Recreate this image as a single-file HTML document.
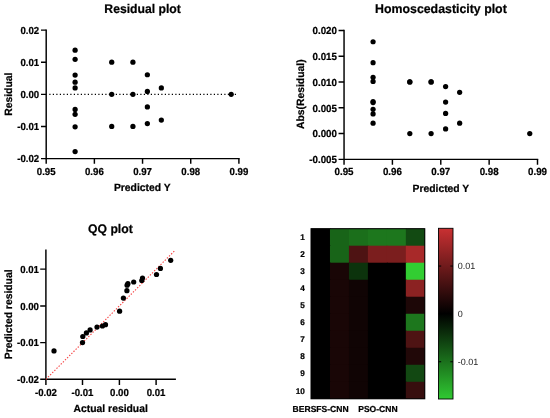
<!DOCTYPE html>
<html><head><meta charset="utf-8"><title>Residual plots</title>
<style>html,body{margin:0;padding:0;background:#fff}svg{display:block;font-family:"Liberation Sans", Arial, sans-serif;text-rendering:geometricPrecision;filter:blur(0.35px)}</style>
</head><body>
<svg width="550" height="418" viewBox="0 0 550 418">
<rect width="550" height="418" fill="#fff"/>
<path d="M46.20 29.38V158.60H239.62" fill="none" stroke="#000" stroke-width="1.45" stroke-linejoin="miter"/>
<path d="M46.20 158.60v5.2M94.38 158.60v5.2M142.55 158.60v5.2M190.73 158.60v5.2M238.90 158.60v5.2M46.20 30.10h-5.2M46.20 62.22h-5.2M46.20 94.35h-5.2M46.20 126.47h-5.2M46.20 158.60h-5.2" fill="none" stroke="#000" stroke-width="1.45"/>
<text transform="translate(46.20 174.80) scale(1 1.05)" font-size="9.65" font-weight="bold" text-anchor="middle" fill="#000" stroke="#000" stroke-width="0.22">0.95</text>
<text transform="translate(94.38 174.80) scale(1 1.05)" font-size="9.65" font-weight="bold" text-anchor="middle" fill="#000" stroke="#000" stroke-width="0.22">0.96</text>
<text transform="translate(142.55 174.80) scale(1 1.05)" font-size="9.65" font-weight="bold" text-anchor="middle" fill="#000" stroke="#000" stroke-width="0.22">0.97</text>
<text transform="translate(190.73 174.80) scale(1 1.05)" font-size="9.65" font-weight="bold" text-anchor="middle" fill="#000" stroke="#000" stroke-width="0.22">0.98</text>
<text transform="translate(238.90 174.80) scale(1 1.05)" font-size="9.65" font-weight="bold" text-anchor="middle" fill="#000" stroke="#000" stroke-width="0.22">0.99</text>
<text transform="translate(39.20 33.90) scale(1 1.05)" font-size="9.65" font-weight="bold" text-anchor="end" fill="#000" stroke="#000" stroke-width="0.22">0.02</text>
<text transform="translate(39.20 66.02) scale(1 1.05)" font-size="9.65" font-weight="bold" text-anchor="end" fill="#000" stroke="#000" stroke-width="0.22">0.01</text>
<text transform="translate(39.20 98.15) scale(1 1.05)" font-size="9.65" font-weight="bold" text-anchor="end" fill="#000" stroke="#000" stroke-width="0.22">0.00</text>
<text transform="translate(39.20 130.28) scale(1 1.05)" font-size="9.65" font-weight="bold" text-anchor="end" fill="#000" stroke="#000" stroke-width="0.22">-0.01</text>
<text transform="translate(39.20 162.40) scale(1 1.05)" font-size="9.65" font-weight="bold" text-anchor="end" fill="#000" stroke="#000" stroke-width="0.22">-0.02</text>
<path d="M49.3 94.35H236.3" stroke="#000" stroke-width="1.15" stroke-dasharray="1.2 2.3" fill="none"/>
<circle cx="75.11" cy="50.18" r="2.62" fill="#000"/>
<circle cx="75.11" cy="59.33" r="2.62" fill="#000"/>
<circle cx="75.11" cy="75.07" r="2.62" fill="#000"/>
<circle cx="75.11" cy="82.14" r="2.62" fill="#000"/>
<circle cx="75.11" cy="87.92" r="2.62" fill="#000"/>
<circle cx="75.11" cy="109.45" r="2.62" fill="#000"/>
<circle cx="75.11" cy="114.27" r="2.62" fill="#000"/>
<circle cx="75.11" cy="126.80" r="2.62" fill="#000"/>
<circle cx="75.11" cy="151.53" r="2.62" fill="#000"/>
<circle cx="111.72" cy="62.22" r="2.62" fill="#000"/>
<circle cx="111.72" cy="94.35" r="2.62" fill="#000"/>
<circle cx="111.72" cy="126.47" r="2.62" fill="#000"/>
<circle cx="132.92" cy="62.22" r="2.62" fill="#000"/>
<circle cx="132.92" cy="94.35" r="2.62" fill="#000"/>
<circle cx="132.92" cy="126.47" r="2.62" fill="#000"/>
<circle cx="147.37" cy="74.75" r="2.62" fill="#000"/>
<circle cx="147.37" cy="91.46" r="2.62" fill="#000"/>
<circle cx="147.37" cy="106.88" r="2.62" fill="#000"/>
<circle cx="147.37" cy="123.58" r="2.62" fill="#000"/>
<circle cx="161.34" cy="87.92" r="2.62" fill="#000"/>
<circle cx="161.34" cy="120.05" r="2.62" fill="#000"/>
<circle cx="231.19" cy="94.35" r="2.62" fill="#000"/>
<text transform="translate(142.60 13.10) scale(1 1.02)" font-size="12.2" font-weight="bold" text-anchor="middle" fill="#000" stroke="#000" stroke-width="0.22">Residual plot</text>
<text transform="translate(142.30 191.30) scale(1 1.02)" font-size="10.35" font-weight="bold" text-anchor="middle" fill="#000" stroke="#000" stroke-width="0.22">Predicted Y</text>
<text transform="translate(11.50 94.20) rotate(-90) scale(1 1.02)" font-size="10.35" font-weight="bold" text-anchor="middle" fill="#000" stroke="#000" stroke-width="0.22">Residual</text>
<path d="M344.05 29.67V159.35H538.23" fill="none" stroke="#000" stroke-width="1.45" stroke-linejoin="miter"/>
<path d="M344.05 159.35v5.5M392.41 159.35v5.5M440.78 159.35v5.5M489.14 159.35v5.5M537.50 159.35v5.5M344.05 30.40h-5.5M344.05 56.19h-5.5M344.05 81.98h-5.5M344.05 107.77h-5.5M344.05 133.56h-5.5M344.05 159.35h-5.5" fill="none" stroke="#000" stroke-width="1.45"/>
<text transform="translate(344.05 174.85) scale(1 1.05)" font-size="9.75" font-weight="bold" text-anchor="middle" fill="#000" stroke="#000" stroke-width="0.22">0.95</text>
<text transform="translate(392.41 174.85) scale(1 1.05)" font-size="9.75" font-weight="bold" text-anchor="middle" fill="#000" stroke="#000" stroke-width="0.22">0.96</text>
<text transform="translate(440.78 174.85) scale(1 1.05)" font-size="9.75" font-weight="bold" text-anchor="middle" fill="#000" stroke="#000" stroke-width="0.22">0.97</text>
<text transform="translate(489.14 174.85) scale(1 1.05)" font-size="9.75" font-weight="bold" text-anchor="middle" fill="#000" stroke="#000" stroke-width="0.22">0.98</text>
<text transform="translate(537.50 174.85) scale(1 1.05)" font-size="9.75" font-weight="bold" text-anchor="middle" fill="#000" stroke="#000" stroke-width="0.22">0.99</text>
<text transform="translate(336.95 34.20) scale(1 1.05)" font-size="9.75" font-weight="bold" text-anchor="end" fill="#000" stroke="#000" stroke-width="0.22">0.020</text>
<text transform="translate(336.95 59.99) scale(1 1.05)" font-size="9.75" font-weight="bold" text-anchor="end" fill="#000" stroke="#000" stroke-width="0.22">0.015</text>
<text transform="translate(336.95 85.78) scale(1 1.05)" font-size="9.75" font-weight="bold" text-anchor="end" fill="#000" stroke="#000" stroke-width="0.22">0.010</text>
<text transform="translate(336.95 111.57) scale(1 1.05)" font-size="9.75" font-weight="bold" text-anchor="end" fill="#000" stroke="#000" stroke-width="0.22">0.005</text>
<text transform="translate(336.95 137.36) scale(1 1.05)" font-size="9.75" font-weight="bold" text-anchor="end" fill="#000" stroke="#000" stroke-width="0.22">0.000</text>
<text transform="translate(336.95 163.15) scale(1 1.05)" font-size="9.75" font-weight="bold" text-anchor="end" fill="#000" stroke="#000" stroke-width="0.22">-0.005</text>
<circle cx="373.07" cy="62.64" r="2.62" fill="#000"/>
<circle cx="373.07" cy="77.34" r="2.62" fill="#000"/>
<circle cx="373.07" cy="102.61" r="2.62" fill="#000"/>
<circle cx="373.07" cy="113.96" r="2.62" fill="#000"/>
<circle cx="373.07" cy="123.24" r="2.62" fill="#000"/>
<circle cx="373.07" cy="109.32" r="2.62" fill="#000"/>
<circle cx="373.07" cy="101.58" r="2.62" fill="#000"/>
<circle cx="373.07" cy="81.46" r="2.62" fill="#000"/>
<circle cx="373.07" cy="41.75" r="2.62" fill="#000"/>
<circle cx="409.82" cy="81.98" r="2.62" fill="#000"/>
<circle cx="409.82" cy="133.56" r="2.62" fill="#000"/>
<circle cx="409.82" cy="81.98" r="2.62" fill="#000"/>
<circle cx="431.10" cy="81.98" r="2.62" fill="#000"/>
<circle cx="431.10" cy="133.56" r="2.62" fill="#000"/>
<circle cx="431.10" cy="81.98" r="2.62" fill="#000"/>
<circle cx="445.61" cy="102.10" r="2.62" fill="#000"/>
<circle cx="445.61" cy="128.92" r="2.62" fill="#000"/>
<circle cx="445.61" cy="113.44" r="2.62" fill="#000"/>
<circle cx="445.61" cy="86.62" r="2.62" fill="#000"/>
<circle cx="459.64" cy="123.24" r="2.62" fill="#000"/>
<circle cx="459.64" cy="92.30" r="2.62" fill="#000"/>
<circle cx="529.76" cy="133.56" r="2.62" fill="#000"/>
<text transform="translate(440.90 13.10) scale(1 1.02)" font-size="12.35" font-weight="bold" text-anchor="middle" fill="#000" stroke="#000" stroke-width="0.22">Homoscedasticity plot</text>
<text transform="translate(440.90 191.50) scale(1 1.02)" font-size="10.35" font-weight="bold" text-anchor="middle" fill="#000" stroke="#000" stroke-width="0.22">Predicted Y</text>
<text transform="translate(303.90 94.20) rotate(-90) scale(1 1.02)" font-size="10.35" font-weight="bold" text-anchor="middle" fill="#000" stroke="#000" stroke-width="0.22">Abs(Residual)</text>
<path d="M45.90 249.47V379.30H175.92" fill="none" stroke="#000" stroke-width="1.45" stroke-linejoin="miter"/>
<path d="M45.90 379.30v5.7M82.50 379.30v5.7M119.40 379.30v5.7M156.10 379.30v5.7M45.90 269.10h-5.7M45.90 305.90h-5.7M45.90 342.60h-5.7M45.90 379.30h-5.7" fill="none" stroke="#000" stroke-width="1.45"/>
<text transform="translate(45.90 395.75) scale(1 1.05)" font-size="9.65" font-weight="bold" text-anchor="middle" fill="#000" stroke="#000" stroke-width="0.22">-0.02</text>
<text transform="translate(82.50 395.75) scale(1 1.05)" font-size="9.65" font-weight="bold" text-anchor="middle" fill="#000" stroke="#000" stroke-width="0.22">-0.01</text>
<text transform="translate(119.40 395.75) scale(1 1.05)" font-size="9.65" font-weight="bold" text-anchor="middle" fill="#000" stroke="#000" stroke-width="0.22">0.00</text>
<text transform="translate(156.10 395.75) scale(1 1.05)" font-size="9.65" font-weight="bold" text-anchor="middle" fill="#000" stroke="#000" stroke-width="0.22">0.01</text>
<text transform="translate(38.90 272.90) scale(1 1.05)" font-size="9.65" font-weight="bold" text-anchor="end" fill="#000" stroke="#000" stroke-width="0.22">0.01</text>
<text transform="translate(38.90 309.70) scale(1 1.05)" font-size="9.65" font-weight="bold" text-anchor="end" fill="#000" stroke="#000" stroke-width="0.22">0.00</text>
<text transform="translate(38.90 346.40) scale(1 1.05)" font-size="9.65" font-weight="bold" text-anchor="end" fill="#000" stroke="#000" stroke-width="0.22">-0.01</text>
<text transform="translate(38.90 383.10) scale(1 1.05)" font-size="9.65" font-weight="bold" text-anchor="end" fill="#000" stroke="#000" stroke-width="0.22">-0.02</text>
<path d="M45.90 379.30L175.20 250.20" stroke="#f64040" stroke-width="1.1" stroke-dasharray="1.4 1.6" fill="none"/>
<circle cx="54.00" cy="350.90" r="2.62" fill="#000"/>
<circle cx="82.50" cy="342.60" r="2.62" fill="#000"/>
<circle cx="82.80" cy="336.50" r="2.62" fill="#000"/>
<circle cx="86.40" cy="332.90" r="2.62" fill="#000"/>
<circle cx="90.10" cy="329.90" r="2.62" fill="#000"/>
<circle cx="97.00" cy="327.10" r="2.62" fill="#000"/>
<circle cx="102.40" cy="326.00" r="2.62" fill="#000"/>
<circle cx="105.50" cy="324.70" r="2.62" fill="#000"/>
<circle cx="119.60" cy="311.20" r="2.62" fill="#000"/>
<circle cx="123.40" cy="298.10" r="2.62" fill="#000"/>
<circle cx="126.90" cy="290.70" r="2.62" fill="#000"/>
<circle cx="127.10" cy="285.20" r="2.62" fill="#000"/>
<circle cx="127.90" cy="283.70" r="2.62" fill="#000"/>
<circle cx="133.70" cy="282.00" r="2.62" fill="#000"/>
<circle cx="141.80" cy="280.50" r="2.62" fill="#000"/>
<circle cx="142.50" cy="278.00" r="2.62" fill="#000"/>
<circle cx="156.50" cy="274.50" r="2.62" fill="#000"/>
<circle cx="160.40" cy="268.40" r="2.62" fill="#000"/>
<circle cx="170.70" cy="260.30" r="2.62" fill="#000"/>
<text transform="translate(110.40 233.20) scale(1 1.02)" font-size="12.2" font-weight="bold" text-anchor="middle" fill="#000" stroke="#000" stroke-width="0.22">QQ plot</text>
<text transform="translate(110.70 411.70) scale(1 1.02)" font-size="10.35" font-weight="bold" text-anchor="middle" fill="#000" stroke="#000" stroke-width="0.22">Actual residual</text>
<text transform="translate(11.50 314.30) rotate(-90) scale(1 1.02)" font-size="10.35" font-weight="bold" text-anchor="middle" fill="#000" stroke="#000" stroke-width="0.22">Predicted residual</text>
<rect x="311.00" y="228.70" width="113.80" height="170.10" fill="#000"/>
<rect x="311.00" y="228.70" width="19.97" height="18.01" fill="#000000"/>
<rect x="329.97" y="228.70" width="19.97" height="18.01" fill="#186418"/>
<rect x="348.93" y="228.70" width="19.97" height="18.01" fill="#1b6f1b"/>
<rect x="367.90" y="228.70" width="19.97" height="18.01" fill="#1d771d"/>
<rect x="386.87" y="228.70" width="19.97" height="18.01" fill="#1d771d"/>
<rect x="405.83" y="228.70" width="18.97" height="18.01" fill="#124a12"/>
<rect x="311.00" y="245.71" width="19.97" height="18.01" fill="#000000"/>
<rect x="329.97" y="245.71" width="19.97" height="18.01" fill="#186418"/>
<rect x="348.93" y="245.71" width="19.97" height="18.01" fill="#4e1313"/>
<rect x="367.90" y="245.71" width="19.97" height="18.01" fill="#7b1e1e"/>
<rect x="386.87" y="245.71" width="19.97" height="18.01" fill="#7b1e1e"/>
<rect x="405.83" y="245.71" width="18.97" height="18.01" fill="#a82929"/>
<rect x="311.00" y="262.72" width="19.97" height="18.01" fill="#000000"/>
<rect x="329.97" y="262.72" width="19.97" height="18.01" fill="#190606"/>
<rect x="348.93" y="262.72" width="19.97" height="18.01" fill="#0c330c"/>
<rect x="367.90" y="262.72" width="19.97" height="18.01" fill="#000000"/>
<rect x="386.87" y="262.72" width="19.97" height="18.01" fill="#000000"/>
<rect x="405.83" y="262.72" width="18.97" height="18.01" fill="#32cd32"/>
<rect x="311.00" y="279.73" width="19.97" height="18.01" fill="#000000"/>
<rect x="329.97" y="279.73" width="19.97" height="18.01" fill="#190606"/>
<rect x="348.93" y="279.73" width="19.97" height="18.01" fill="#100404"/>
<rect x="367.90" y="279.73" width="19.97" height="18.01" fill="#000000"/>
<rect x="386.87" y="279.73" width="19.97" height="18.01" fill="#000000"/>
<rect x="405.83" y="279.73" width="18.97" height="18.01" fill="#8b2222"/>
<rect x="311.00" y="296.74" width="19.97" height="18.01" fill="#000000"/>
<rect x="329.97" y="296.74" width="19.97" height="18.01" fill="#190606"/>
<rect x="348.93" y="296.74" width="19.97" height="18.01" fill="#100404"/>
<rect x="367.90" y="296.74" width="19.97" height="18.01" fill="#000000"/>
<rect x="386.87" y="296.74" width="19.97" height="18.01" fill="#000000"/>
<rect x="405.83" y="296.74" width="18.97" height="18.01" fill="#1d0707"/>
<rect x="311.00" y="313.75" width="19.97" height="18.01" fill="#000000"/>
<rect x="329.97" y="313.75" width="19.97" height="18.01" fill="#190606"/>
<rect x="348.93" y="313.75" width="19.97" height="18.01" fill="#100404"/>
<rect x="367.90" y="313.75" width="19.97" height="18.01" fill="#000000"/>
<rect x="386.87" y="313.75" width="19.97" height="18.01" fill="#000000"/>
<rect x="405.83" y="313.75" width="18.97" height="18.01" fill="#1d771d"/>
<rect x="311.00" y="330.76" width="19.97" height="18.01" fill="#000000"/>
<rect x="329.97" y="330.76" width="19.97" height="18.01" fill="#190606"/>
<rect x="348.93" y="330.76" width="19.97" height="18.01" fill="#100404"/>
<rect x="367.90" y="330.76" width="19.97" height="18.01" fill="#000000"/>
<rect x="386.87" y="330.76" width="19.97" height="18.01" fill="#000000"/>
<rect x="405.83" y="330.76" width="18.97" height="18.01" fill="#4e1313"/>
<rect x="311.00" y="347.77" width="19.97" height="18.01" fill="#000000"/>
<rect x="329.97" y="347.77" width="19.97" height="18.01" fill="#190606"/>
<rect x="348.93" y="347.77" width="19.97" height="18.01" fill="#100404"/>
<rect x="367.90" y="347.77" width="19.97" height="18.01" fill="#000000"/>
<rect x="386.87" y="347.77" width="19.97" height="18.01" fill="#000000"/>
<rect x="405.83" y="347.77" width="18.97" height="18.01" fill="#210808"/>
<rect x="311.00" y="364.78" width="19.97" height="18.01" fill="#000000"/>
<rect x="329.97" y="364.78" width="19.97" height="18.01" fill="#190606"/>
<rect x="348.93" y="364.78" width="19.97" height="18.01" fill="#100404"/>
<rect x="367.90" y="364.78" width="19.97" height="18.01" fill="#000000"/>
<rect x="386.87" y="364.78" width="19.97" height="18.01" fill="#000000"/>
<rect x="405.83" y="364.78" width="18.97" height="18.01" fill="#124812"/>
<rect x="311.00" y="381.79" width="19.97" height="17.01" fill="#000000"/>
<rect x="329.97" y="381.79" width="19.97" height="17.01" fill="#190606"/>
<rect x="348.93" y="381.79" width="19.97" height="17.01" fill="#100404"/>
<rect x="367.90" y="381.79" width="19.97" height="17.01" fill="#000000"/>
<rect x="386.87" y="381.79" width="19.97" height="17.01" fill="#000000"/>
<rect x="405.83" y="381.79" width="18.97" height="17.01" fill="#370e0e"/>
<rect x="311.00" y="228.70" width="113.80" height="170.10" fill="none" stroke="#000" stroke-width="1"/>
<text transform="translate(304.90 240.40) scale(1 1.02)" font-size="8.2" font-weight="bold" text-anchor="end" fill="#000" stroke="#000" stroke-width="0.22">1</text>
<text transform="translate(304.90 257.41) scale(1 1.02)" font-size="8.2" font-weight="bold" text-anchor="end" fill="#000" stroke="#000" stroke-width="0.22">2</text>
<text transform="translate(304.90 274.43) scale(1 1.02)" font-size="8.2" font-weight="bold" text-anchor="end" fill="#000" stroke="#000" stroke-width="0.22">3</text>
<text transform="translate(304.90 291.44) scale(1 1.02)" font-size="8.2" font-weight="bold" text-anchor="end" fill="#000" stroke="#000" stroke-width="0.22">4</text>
<text transform="translate(304.90 308.44) scale(1 1.02)" font-size="8.2" font-weight="bold" text-anchor="end" fill="#000" stroke="#000" stroke-width="0.22">5</text>
<text transform="translate(304.90 325.45) scale(1 1.02)" font-size="8.2" font-weight="bold" text-anchor="end" fill="#000" stroke="#000" stroke-width="0.22">6</text>
<text transform="translate(304.90 342.46) scale(1 1.02)" font-size="8.2" font-weight="bold" text-anchor="end" fill="#000" stroke="#000" stroke-width="0.22">7</text>
<text transform="translate(304.90 359.47) scale(1 1.02)" font-size="8.2" font-weight="bold" text-anchor="end" fill="#000" stroke="#000" stroke-width="0.22">8</text>
<text transform="translate(304.90 376.48) scale(1 1.02)" font-size="8.2" font-weight="bold" text-anchor="end" fill="#000" stroke="#000" stroke-width="0.22">9</text>
<text transform="translate(304.90 393.50) scale(1 1.02)" font-size="8.2" font-weight="bold" text-anchor="end" fill="#000" stroke="#000" stroke-width="0.22">10</text>
<text transform="translate(292.60 412.20) scale(1 1.02)" font-size="8.55" font-weight="bold" text-anchor="start" fill="#000" stroke="#000" stroke-width="0.22">BERSFS-CNN</text>
<text transform="translate(358.20 412.20) scale(1 1.02)" font-size="8.55" font-weight="bold" text-anchor="start" fill="#000" stroke="#000" stroke-width="0.22">PSO-CNN</text>
<defs><linearGradient id="cb" x1="0" y1="0" x2="0" y2="1"><stop offset="0" stop-color="#c93032"/><stop offset="0.5" stop-color="#000"/><stop offset="1" stop-color="#30c932"/></linearGradient></defs>
<rect x="438.50" y="228.30" width="14.50" height="170.70" fill="url(#cb)" stroke="#000" stroke-width="0.9"/>
<path d="M438.50 266.05h2.7M453.00 266.05h-2.7" stroke="#000" stroke-width="1.0"/>
<text transform="translate(457.80 269.25)" font-size="9.0" font-weight="normal" text-anchor="start" fill="#262626">0.01</text>
<path d="M438.50 313.90h2.7M453.00 313.90h-2.7" stroke="#000" stroke-width="1.0"/>
<text transform="translate(457.80 317.10)" font-size="9.0" font-weight="normal" text-anchor="start" fill="#262626">0</text>
<path d="M438.50 361.75h2.7M453.00 361.75h-2.7" stroke="#000" stroke-width="1.0"/>
<text transform="translate(457.80 364.95)" font-size="9.0" font-weight="normal" text-anchor="start" fill="#262626">-0.01</text>
</svg>
</body></html>
